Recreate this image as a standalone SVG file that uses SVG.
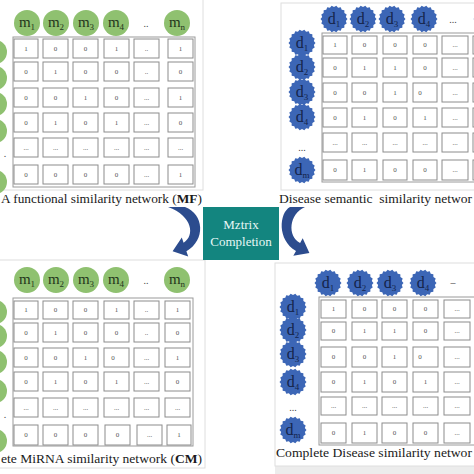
<svg xmlns="http://www.w3.org/2000/svg" xmlns:xlink="http://www.w3.org/1999/xlink" width="474" height="474" viewBox="0 0 474 474">
<style>
.panel{fill:#fff;stroke:#dedede;stroke-width:1}
.mat{fill:none;stroke:#9a9a9a;stroke-width:1}
.cell{fill:#fff;stroke:#8c8c8c;stroke-width:1}
.v{font-family:"Liberation Serif",serif;font-size:7px;fill:#555;text-anchor:middle}
.gc{fill:#8fc170}
.bs{fill:#3c66b6}
.gl{font-family:"Liberation Serif",serif;font-size:15px;fill:#24361c;text-anchor:middle}
.bl{font-family:"Liberation Serif",serif;font-size:16px;fill:#15244a;text-anchor:middle}
.sub{font-size:9px}
.dots{font-family:"Liberation Serif",serif;font-size:10px;fill:#444;text-anchor:middle}
.cap{font-family:"Liberation Serif",serif;font-size:13.5px;fill:#1a1a1a}
.box{fill:#13857f}
.boxt{font-family:"Liberation Serif",serif;font-size:13px;fill:#e8f8f6;text-anchor:middle}
.arr{fill:#2c4c8e}
</style>
<defs>
<polygon id="star" points="13.5,0 11.82,2.08 12.69,4.62 10.39,6 10.34,8.68 7.71,9.19 6.75,11.69 4.1,11.28 2.34,13.3 0,12 -2.34,13.3 -4.1,11.28 -6.75,11.69 -7.71,9.19 -10.34,8.68 -10.39,6 -12.69,4.62 -11.82,2.08 -13.5,0 -11.82,-2.08 -12.69,-4.62 -10.39,-6 -10.34,-8.68 -7.71,-9.19 -6.75,-11.69 -4.1,-11.28 -2.34,-13.3 0,-12 2.34,-13.3 4.1,-11.28 6.75,-11.69 7.71,-9.19 10.34,-8.68 10.39,-6 12.69,-4.62 11.82,-2.08"/>
<linearGradient id="ag" x1="0" y1="0" x2="1" y2="1">
<stop offset="0" stop-color="#3a5ea6"/>
<stop offset="1" stop-color="#1f3a78"/>
</linearGradient>
</defs>
<rect width="474" height="474" fill="#fff"/>

<!-- Top-left panel: MF -->
<g id="panel-mf">
<rect class="panel" x="-2" y="-2" width="205" height="192"/>
<g id="mf-headers">
<circle class="gc" cx="27" cy="23" r="13"/><text class="gl" x="27" y="27">m<tspan class="sub" dy="3">1</tspan></text>
<circle class="gc" cx="56" cy="23" r="13"/><text class="gl" x="56" y="27">m<tspan class="sub" dy="3">2</tspan></text>
<circle class="gc" cx="86" cy="23" r="13"/><text class="gl" x="86" y="27">m<tspan class="sub" dy="3">3</tspan></text>
<circle class="gc" cx="116" cy="23" r="13"/><text class="gl" x="116" y="27">m<tspan class="sub" dy="3">4</tspan></text>
<text class="dots" x="146" y="27">..</text>
<circle class="gc" cx="177" cy="23" r="13"/><text class="gl" x="177" y="27">m<tspan class="sub" dy="3">n</tspan></text>
</g>
<g id="mf-rows">
<circle class="gc" cx="-5" cy="52" r="12"/>
<circle class="gc" cx="-5" cy="78" r="12"/>
<circle class="gc" cx="-5" cy="104" r="12"/>
<circle class="gc" cx="-5" cy="131" r="12"/>
<text class="dots" x="5" y="157">.</text>
<circle class="gc" cx="-5" cy="182" r="12"/>
</g>
<rect class="mat" x="13" y="37" width="182" height="150"/>
<g id="mf-cells">
<rect class="cell" x="14" y="39" width="24" height="19"/><text class="v" x="26" y="51">1</text>
<rect class="cell" x="43" y="39" width="25" height="19"/><text class="v" x="55.5" y="51">0</text>
<rect class="cell" x="73" y="39" width="25" height="19"/><text class="v" x="85.5" y="51">0</text>
<rect class="cell" x="104" y="39" width="25" height="19"/><text class="v" x="116.5" y="51">1</text>
<rect class="cell" x="134" y="39" width="25" height="19"/><text class="v" x="146.5" y="51">..</text>
<rect class="cell" x="168" y="39" width="25" height="19"/><text class="v" x="180.5" y="51">1</text>

<rect class="cell" x="14" y="62" width="24" height="19"/><text class="v" x="26" y="74">0</text>
<rect class="cell" x="43" y="62" width="25" height="19"/><text class="v" x="55.5" y="74">1</text>
<rect class="cell" x="73" y="62" width="25" height="19"/><text class="v" x="85.5" y="74">0</text>
<rect class="cell" x="104" y="62" width="25" height="19"/><text class="v" x="116.5" y="74">0</text>
<rect class="cell" x="134" y="62" width="25" height="19"/><text class="v" x="146.5" y="74">..</text>
<rect class="cell" x="168" y="62" width="25" height="19"/><text class="v" x="180.5" y="74">0</text>

<rect class="cell" x="14" y="88" width="24" height="19"/><text class="v" x="26" y="100">0</text>
<rect class="cell" x="43" y="88" width="25" height="19"/><text class="v" x="55.5" y="100">0</text>
<rect class="cell" x="73" y="88" width="25" height="19"/><text class="v" x="85.5" y="100">1</text>
<rect class="cell" x="104" y="88" width="25" height="19"/><text class="v" x="116.5" y="100">0</text>
<rect class="cell" x="134" y="88" width="25" height="19"/><text class="v" x="146.5" y="100">...</text>
<rect class="cell" x="168" y="88" width="25" height="19"/><text class="v" x="180.5" y="100">1</text>

<rect class="cell" x="14" y="113" width="24" height="19"/><text class="v" x="26" y="125">0</text>
<rect class="cell" x="43" y="113" width="25" height="19"/><text class="v" x="55.5" y="125">1</text>
<rect class="cell" x="73" y="113" width="25" height="19"/><text class="v" x="85.5" y="125">0</text>
<rect class="cell" x="104" y="113" width="25" height="19"/><text class="v" x="116.5" y="125">1</text>
<rect class="cell" x="134" y="113" width="25" height="19"/><text class="v" x="146.5" y="125">...</text>
<rect class="cell" x="168" y="113" width="25" height="19"/><text class="v" x="180.5" y="125">0</text>

<rect class="cell" x="14" y="138" width="24" height="19"/><text class="v" x="26" y="150">...</text>
<rect class="cell" x="43" y="138" width="25" height="19"/><text class="v" x="55.5" y="150">...</text>
<rect class="cell" x="73" y="138" width="25" height="19"/><text class="v" x="85.5" y="150">...</text>
<rect class="cell" x="104" y="138" width="25" height="19"/><text class="v" x="116.5" y="150">...</text>
<rect class="cell" x="134" y="138" width="25" height="19"/><text class="v" x="146.5" y="150">...</text>
<rect class="cell" x="168" y="138" width="25" height="19"/><text class="v" x="180.5" y="150">...</text>

<rect class="cell" x="14" y="165" width="24" height="19"/><text class="v" x="26" y="177">0</text>
<rect class="cell" x="43" y="165" width="25" height="19"/><text class="v" x="55.5" y="177">0</text>
<rect class="cell" x="73" y="165" width="25" height="19"/><text class="v" x="85.5" y="177">0</text>
<rect class="cell" x="104" y="165" width="25" height="19"/><text class="v" x="116.5" y="177">0</text>
<rect class="cell" x="134" y="165" width="25" height="19"/><text class="v" x="146.5" y="177">...</text>
<rect class="cell" x="168" y="165" width="25" height="19"/><text class="v" x="180.5" y="177">1</text>
</g>
<text class="cap" x="1" y="203" textLength="201" lengthAdjust="spacingAndGlyphs">A functional similarity network (<tspan font-weight="bold">MF</tspan>)</text>
</g>

<!-- Top-right panel: Disease semantic -->
<g id="panel-ds">
<rect class="panel" x="281" y="3" width="200" height="187"/>
<g id="ds-headers">
<use xlink:href="#star" class="bs" x="334" y="19"/><text class="bl" x="334" y="24">d<tspan class="sub" dy="3">1</tspan></text>
<use xlink:href="#star" class="bs" x="363" y="19"/><text class="bl" x="363" y="24">d<tspan class="sub" dy="3">2</tspan></text>
<use xlink:href="#star" class="bs" x="392" y="19"/><text class="bl" x="392" y="24">d<tspan class="sub" dy="3">3</tspan></text>
<use xlink:href="#star" class="bs" x="424" y="19"/><text class="bl" x="424" y="24">d<tspan class="sub" dy="3">4</tspan></text>
<text class="dots" x="453" y="23">...</text>
<use xlink:href="#star" class="bs" x="487" y="19"/>
</g>
<g id="ds-rows">
<use xlink:href="#star" class="bs" x="302" y="43"/><text class="bl" x="302" y="48">d<tspan class="sub" dy="3">1</tspan></text>
<use xlink:href="#star" class="bs" x="302" y="67"/><text class="bl" x="302" y="72">d<tspan class="sub" dy="3">2</tspan></text>
<use xlink:href="#star" class="bs" x="302" y="92"/><text class="bl" x="302" y="97">d<tspan class="sub" dy="3">3</tspan></text>
<use xlink:href="#star" class="bs" x="302" y="117"/><text class="bl" x="302" y="122">d<tspan class="sub" dy="3">4</tspan></text>
<text class="dots" x="302" y="151">...</text>
<use xlink:href="#star" class="bs" x="302" y="170"/><text class="bl" x="302" y="175">d<tspan class="sub" dy="3">m</tspan></text>
</g>
<rect class="mat" x="322" y="33" width="160" height="149"/>
<g id="ds-cells">
<rect class="cell" x="323" y="36" width="24" height="18"/><text class="v" x="335" y="47">1</text>
<rect class="cell" x="352" y="36" width="25" height="18"/><text class="v" x="364.5" y="47">0</text>
<rect class="cell" x="383" y="36" width="24" height="18"/><text class="v" x="395" y="47">0</text>
<rect class="cell" x="413" y="36" width="24" height="18"/><text class="v" x="425" y="47">0</text>
<rect class="cell" x="442" y="36" width="26" height="18"/><text class="v" x="455" y="47">...</text>
<rect class="cell" x="473" y="36" width="25" height="18"/>

<rect class="cell" x="323" y="58" width="24" height="19"/><text class="v" x="335" y="70">0</text>
<rect class="cell" x="352" y="58" width="25" height="19"/><text class="v" x="364.5" y="70">1</text>
<rect class="cell" x="383" y="58" width="24" height="19"/><text class="v" x="395" y="70">1</text>
<rect class="cell" x="413" y="58" width="24" height="19"/><text class="v" x="425" y="70">0</text>
<rect class="cell" x="442" y="58" width="26" height="19"/><text class="v" x="455" y="70">...</text>
<rect class="cell" x="473" y="58" width="25" height="19"/>

<rect class="cell" x="323" y="83" width="24" height="19"/><text class="v" x="335" y="95">0</text>
<rect class="cell" x="352" y="83" width="25" height="19"/><text class="v" x="364.5" y="95">0</text>
<rect class="cell" x="383" y="83" width="24" height="19"/><text class="v" x="395" y="95">1</text>
<rect class="cell" x="413" y="83" width="24" height="19"/><text class="v" x="420" y="95">0</text>
<rect class="cell" x="442" y="83" width="26" height="19"/><text class="v" x="455" y="95">...</text>
<rect class="cell" x="473" y="83" width="25" height="19"/>

<rect class="cell" x="323" y="108" width="24" height="19"/><text class="v" x="335" y="120">0</text>
<rect class="cell" x="352" y="108" width="25" height="19"/><text class="v" x="364.5" y="120">1</text>
<rect class="cell" x="383" y="108" width="24" height="19"/><text class="v" x="395" y="120">0</text>
<rect class="cell" x="413" y="108" width="24" height="19"/><text class="v" x="425" y="120">1</text>
<rect class="cell" x="442" y="108" width="26" height="19"/><text class="v" x="455" y="120">...</text>
<rect class="cell" x="473" y="108" width="25" height="19"/>

<rect class="cell" x="323" y="133" width="24" height="19"/><text class="v" x="335" y="145">...</text>
<rect class="cell" x="352" y="133" width="25" height="19"/><text class="v" x="364.5" y="145">...</text>
<rect class="cell" x="383" y="133" width="24" height="19"/><text class="v" x="395" y="145">...</text>
<rect class="cell" x="413" y="133" width="24" height="19"/><text class="v" x="425" y="145">...</text>
<rect class="cell" x="442" y="133" width="26" height="19"/><text class="v" x="455" y="145">...</text>
<rect class="cell" x="473" y="133" width="25" height="19"/>

<rect class="cell" x="323" y="160" width="24" height="20"/><text class="v" x="335" y="172">0</text>
<rect class="cell" x="352" y="160" width="25" height="20"/><text class="v" x="364.5" y="172">1</text>
<rect class="cell" x="383" y="160" width="24" height="20"/><text class="v" x="395" y="172">0</text>
<rect class="cell" x="413" y="160" width="24" height="20"/><text class="v" x="425" y="172">0</text>
<rect class="cell" x="442" y="160" width="26" height="20"/><text class="v" x="455" y="172">...</text>
<rect class="cell" x="473" y="160" width="25" height="20"/>
</g>
<text class="cap" x="279" y="203" xml:space="preserve" textLength="193" lengthAdjust="spacingAndGlyphs">Disease semantic  similarity networ</text>
</g>

<!-- Bottom-left panel: CM -->
<g id="panel-cm">
<rect class="panel" x="-2" y="260" width="207" height="208"/>
<g id="cm-headers">
<circle class="gc" cx="27" cy="280" r="13"/><text class="gl" x="27" y="284">m<tspan class="sub" dy="3">1</tspan></text>
<circle class="gc" cx="56" cy="280" r="13"/><text class="gl" x="56" y="284">m<tspan class="sub" dy="3">2</tspan></text>
<circle class="gc" cx="86" cy="280" r="13"/><text class="gl" x="86" y="284">m<tspan class="sub" dy="3">3</tspan></text>
<circle class="gc" cx="116" cy="280" r="13"/><text class="gl" x="116" y="284">m<tspan class="sub" dy="3">4</tspan></text>
<text class="dots" x="146" y="284">..</text>
<circle class="gc" cx="177" cy="280" r="13"/><text class="gl" x="177" y="284">m<tspan class="sub" dy="3">n</tspan></text>
</g>
<g id="cm-rows">
<circle class="gc" cx="-5" cy="312" r="12"/>
<circle class="gc" cx="-5" cy="336" r="12"/>
<circle class="gc" cx="-5" cy="362" r="12"/>
<circle class="gc" cx="-5" cy="391" r="12"/>
<text class="dots" x="5" y="418">.</text>
<circle class="gc" cx="-5" cy="441" r="12"/>
</g>
<rect class="mat" x="13" y="298" width="180" height="148"/>
<g id="cm-cells">
<rect class="cell" x="14" y="301" width="24" height="18"/><text class="v" x="26" y="312">1</text>
<rect class="cell" x="43" y="301" width="25" height="18"/><text class="v" x="55.5" y="312">0</text>
<rect class="cell" x="73" y="301" width="25" height="18"/><text class="v" x="85.5" y="312">0</text>
<rect class="cell" x="104" y="301" width="25" height="18"/><text class="v" x="116.5" y="312">1</text>
<rect class="cell" x="134" y="301" width="25" height="18"/><text class="v" x="146.5" y="312">..</text>
<rect class="cell" x="165" y="301" width="25" height="18"/><text class="v" x="177.5" y="312">1</text>

<rect class="cell" x="14" y="323" width="24" height="19"/><text class="v" x="26" y="335">0</text>
<rect class="cell" x="43" y="323" width="25" height="19"/><text class="v" x="55.5" y="335">1</text>
<rect class="cell" x="73" y="323" width="25" height="19"/><text class="v" x="85.5" y="335">0</text>
<rect class="cell" x="104" y="323" width="25" height="19"/><text class="v" x="116.5" y="335">0</text>
<rect class="cell" x="134" y="323" width="25" height="19"/><text class="v" x="146.5" y="335">..</text>
<rect class="cell" x="165" y="323" width="25" height="19"/><text class="v" x="177.5" y="335">0</text>

<rect class="cell" x="14" y="348" width="24" height="19"/><text class="v" x="26" y="360">0</text>
<rect class="cell" x="43" y="348" width="25" height="19"/><text class="v" x="55.5" y="360">0</text>
<rect class="cell" x="73" y="348" width="25" height="19"/><text class="v" x="85.5" y="360">1</text>
<rect class="cell" x="104" y="348" width="25" height="19"/><text class="v" x="113" y="360">0</text>
<rect class="cell" x="134" y="348" width="25" height="19"/><text class="v" x="146.5" y="360">...</text>
<rect class="cell" x="165" y="348" width="25" height="19"/><text class="v" x="177.5" y="360">1</text>

<rect class="cell" x="14" y="372" width="24" height="19"/><text class="v" x="26" y="384">0</text>
<rect class="cell" x="43" y="372" width="25" height="19"/><text class="v" x="55.5" y="384">1</text>
<rect class="cell" x="73" y="372" width="25" height="19"/><text class="v" x="85.5" y="384">0</text>
<rect class="cell" x="104" y="372" width="25" height="19"/><text class="v" x="116.5" y="384">1</text>
<rect class="cell" x="134" y="372" width="25" height="19"/><text class="v" x="146.5" y="384">...</text>
<rect class="cell" x="165" y="372" width="25" height="19"/><text class="v" x="177.5" y="384">0</text>

<rect class="cell" x="14" y="398" width="24" height="19"/><text class="v" x="26" y="410">...</text>
<rect class="cell" x="43" y="398" width="25" height="19"/><text class="v" x="55.5" y="410">...</text>
<rect class="cell" x="73" y="398" width="25" height="19"/><text class="v" x="85.5" y="410">...</text>
<rect class="cell" x="104" y="398" width="25" height="19"/><text class="v" x="116.5" y="410">...</text>
<rect class="cell" x="134" y="398" width="25" height="19"/><text class="v" x="146.5" y="410">...</text>
<rect class="cell" x="165" y="398" width="25" height="19"/><text class="v" x="177.5" y="410">...</text>

<rect class="cell" x="14" y="425" width="24" height="20"/><text class="v" x="26" y="437">0</text>
<rect class="cell" x="43" y="425" width="25" height="20"/><text class="v" x="55.5" y="437">0</text>
<rect class="cell" x="73" y="425" width="25" height="20"/><text class="v" x="85.5" y="437">0</text>
<rect class="cell" x="105" y="425" width="25" height="20"/><text class="v" x="117.5" y="437">0</text>
<rect class="cell" x="137" y="425" width="25" height="20"/><text class="v" x="149.5" y="437">...</text>
<rect class="cell" x="167" y="425" width="24" height="20"/><text class="v" x="179" y="437">1</text>
</g>
<text class="cap" x="1" y="463" textLength="201" lengthAdjust="spacingAndGlyphs">ete MiRNA similarity network (<tspan font-weight="bold">CM</tspan>)</text>
</g>

<!-- Bottom-right panel: Complete Disease -->
<g id="panel-cd">
<rect x="275" y="466" width="205" height="10" fill="#ececec"/>
<rect class="panel" x="275" y="263" width="205" height="203"/>
<g id="cd-headers">
<use xlink:href="#star" class="bs" x="328" y="283"/><text class="bl" x="328" y="288">d<tspan class="sub" dy="3">1</tspan></text>
<use xlink:href="#star" class="bs" x="360" y="283"/><text class="bl" x="360" y="288">d<tspan class="sub" dy="3">2</tspan></text>
<use xlink:href="#star" class="bs" x="390" y="283"/><text class="bl" x="390" y="288">d<tspan class="sub" dy="3">3</tspan></text>
<use xlink:href="#star" class="bs" x="423" y="283"/><text class="bl" x="423" y="288">d<tspan class="sub" dy="3">4</tspan></text>
<text class="dots" x="453" y="286">–</text>
</g>
<g id="cd-rows">
<use xlink:href="#star" class="bs" x="293" y="307"/><text class="bl" x="293" y="312">d<tspan class="sub" dy="3">1</tspan></text>
<use xlink:href="#star" class="bs" x="293" y="330"/><text class="bl" x="293" y="335">d<tspan class="sub" dy="3">2</tspan></text>
<use xlink:href="#star" class="bs" x="293" y="354"/><text class="bl" x="293" y="359">d<tspan class="sub" dy="3">3</tspan></text>
<use xlink:href="#star" class="bs" x="293" y="382"/><text class="bl" x="293" y="387">d<tspan class="sub" dy="3">4</tspan></text>
<text class="dots" x="293" y="411">...</text>
<use xlink:href="#star" class="bs" x="293" y="430"/><text class="bl" x="293" y="435">d<tspan class="sub" dy="3">m</tspan></text>
</g>
<rect class="mat" x="319" y="297" width="160" height="148"/>
<g id="cd-cells">
<rect class="cell" x="321" y="300" width="25" height="18"/><text class="v" x="333.5" y="311">1</text>
<rect class="cell" x="352" y="300" width="25" height="18"/><text class="v" x="364.5" y="311">0</text>
<rect class="cell" x="382" y="300" width="25" height="18"/><text class="v" x="394.5" y="311">0</text>
<rect class="cell" x="413" y="300" width="25" height="18"/><text class="v" x="425.5" y="311">0</text>
<rect class="cell" x="444" y="300" width="26" height="18"/><text class="v" x="457" y="311">...</text>

<rect class="cell" x="321" y="322" width="25" height="18"/><text class="v" x="333.5" y="333">0</text>
<rect class="cell" x="352" y="322" width="25" height="18"/><text class="v" x="364.5" y="333">1</text>
<rect class="cell" x="382" y="322" width="25" height="18"/><text class="v" x="394.5" y="333">1</text>
<rect class="cell" x="413" y="322" width="25" height="18"/><text class="v" x="425.5" y="333">0</text>
<rect class="cell" x="444" y="322" width="26" height="18"/><text class="v" x="457" y="333">...</text>

<rect class="cell" x="321" y="347" width="25" height="20"/><text class="v" x="333.5" y="359">0</text>
<rect class="cell" x="352" y="347" width="25" height="20"/><text class="v" x="364.5" y="359">0</text>
<rect class="cell" x="382" y="347" width="25" height="20"/><text class="v" x="394.5" y="359">1</text>
<rect class="cell" x="413" y="347" width="25" height="20"/><text class="v" x="420" y="359">0</text>
<rect class="cell" x="444" y="347" width="26" height="20"/><text class="v" x="457" y="359">...</text>

<rect class="cell" x="321" y="372" width="25" height="20"/><text class="v" x="333.5" y="384">0</text>
<rect class="cell" x="352" y="372" width="25" height="20"/><text class="v" x="364.5" y="384">1</text>
<rect class="cell" x="382" y="372" width="25" height="20"/><text class="v" x="394.5" y="384">0</text>
<rect class="cell" x="413" y="372" width="25" height="20"/><text class="v" x="425.5" y="384">1</text>
<rect class="cell" x="444" y="372" width="26" height="20"/><text class="v" x="457" y="384">...</text>

<rect class="cell" x="321" y="397" width="25" height="18"/><text class="v" x="333.5" y="408">...</text>
<rect class="cell" x="352" y="397" width="25" height="18"/><text class="v" x="364.5" y="408">...</text>
<rect class="cell" x="382" y="397" width="25" height="18"/><text class="v" x="394.5" y="408">...</text>
<rect class="cell" x="413" y="397" width="25" height="18"/><text class="v" x="425.5" y="408">...</text>
<rect class="cell" x="444" y="397" width="26" height="18"/><text class="v" x="457" y="408">...</text>

<rect class="cell" x="321" y="423" width="25" height="20"/><text class="v" x="333.5" y="435">0</text>
<rect class="cell" x="352" y="423" width="25" height="20"/><text class="v" x="364.5" y="435">1</text>
<rect class="cell" x="382" y="423" width="25" height="20"/><text class="v" x="394.5" y="435">0</text>
<rect class="cell" x="413" y="423" width="25" height="20"/><text class="v" x="425.5" y="435">0</text>
<rect class="cell" x="444" y="423" width="26" height="20"/><text class="v" x="457" y="435">...</text>
</g>
<text class="cap" x="276" y="457" textLength="196" lengthAdjust="spacingAndGlyphs">Complete Disease similarity networ</text>
</g>

<!-- Center: Matrix completion box -->
<g id="completion">
<rect class="box" x="203" y="207" width="76" height="53"/>
<text class="boxt" x="241" y="229">Mztrix</text>
<text class="boxt" x="241" y="246">Completion</text>
</g>

<!-- Connectors -->
<g id="connectors">
<path class="arr" fill="url(#ag)" d="M 168 207 L 185 207 C 204 214 206 240 186.4 251.3 L 188.2 256.5 L 172.6 251.2 L 181.8 237.5 L 183.6 242.7 C 195 236 193 216 168 207 Z"/>
<path class="arr" fill="url(#ag)" d="M 305 207 L 290 207 C 279 213 277 240 296 251 L 293.3 255.8 L 309.4 253.1 L 302.7 238.2 L 300.1 243 C 287 236 289 214 305 207 Z"/>
</g>
</svg>
